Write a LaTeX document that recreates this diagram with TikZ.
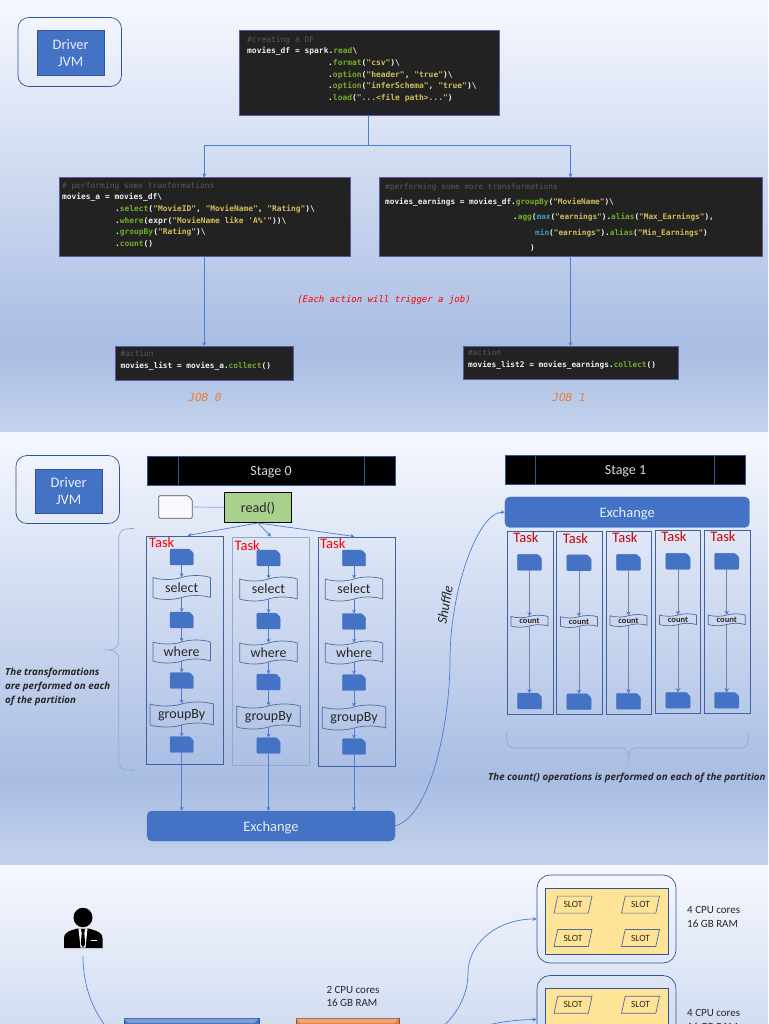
\documentclass[tikz,border=0pt]{standalone}
\usepackage{fontspec}
\setmainfont{Carlito}
\newfontfamily\codefont{DejaVu Sans Mono}
\newfontfamily\notefont{Open Sans}
\usetikzlibrary{arrows.meta,shapes.geometric,shapes.symbols,calc}
\definecolor{bluefill}{HTML}{4472C4}
\definecolor{blueedge}{HTML}{2F5597}
\definecolor{linkblue}{HTML}{4A7DD4}
\definecolor{codebg}{HTML}{222222}
\definecolor{cmt}{HTML}{5A5A5A}
\definecolor{codew}{HTML}{F0F0F0}
\definecolor{codeg}{HTML}{74AE2A}
\definecolor{codey}{HTML}{D2BE5C}
\definecolor{codec}{HTML}{3C9DC4}
\definecolor{slottop}{HTML}{F6F8FE}
\definecolor{slotmid}{HTML}{A9BDE3}
\definecolor{slotbot}{HTML}{C4D3EC}
\definecolor{wavedge}{HTML}{4F6C9F}
\definecolor{braceblue}{HTML}{8EAADB}
\definecolor{taskedge}{HTML}{3E639F}
\definecolor{slotfill}{HTML}{FFE396}
\definecolor{darktext}{HTML}{262626}
\definecolor{readgreen}{HTML}{A9D18E}
\definecolor{joborange}{HTML}{ED7D31}
\definecolor{countline}{HTML}{7486A8}
\pgfdeclareverticalshading{slidebg}{100bp}{color(0bp)=(slotbot); color(25bp)=(slotbot); color(35bp)=(slotmid); color(75bp)=(slottop); color(100bp)=(slottop)}
\newcommand\cC[1]{{\mdseries\textcolor{cmt}{#1}}}
\newcommand\cM[1]{\textcolor{codeg}{#1}}
\newcommand\cS[1]{\textcolor{codey}{#1}}
\newcommand\cB[1]{\textcolor{codec}{#1}}
\tikzset{
  x=1pt,y=-1pt,
  slide/.style={shading=slidebg,draw=none},
  outerbox/.style={draw=blueedge,line width=.7pt,rounded corners=11pt,fill=none,anchor=center,inner sep=0pt},
  driverbox/.style={draw=blueedge,line width=.5pt,fill=bluefill,text=white!88!bluefill,align=center,font=\fontsize{14.5}{17.5}\selectfont,inner sep=0pt,minimum width=67.5pt,minimum height=44.5pt},
  codebox/.style={draw=gray!70!blue,line width=.4pt,fill=codebg,inner sep=0pt},
  codetext/.style={anchor=north west,inner sep=0pt,align=left,text=codew},
  link/.style={draw=linkblue,line width=.7pt,-{Stealth[length=4pt,width=4pt]}},
  linkplain/.style={draw=linkblue,line width=1pt},
  countlink/.style={draw=countline,line width=.7pt,-{Stealth[length=4pt,width=4.5pt,color=linkblue]}},
  stagebar/.style={draw=blueedge,line width=.8pt,fill=black,text=white!85!black,font=\fontsize{14}{16}\selectfont,inner sep=0pt,text depth=0pt},
  taskbox/.style={draw=taskedge,line width=.7pt,inner sep=0pt},
  tasklabel/.style={text=red,font=\fontsize{14.5}{16}\selectfont,inner sep=0pt},
  docanchor/.style={rectangle,inner sep=0pt,minimum width=23pt,minimum height=15.5pt},
  docpaint/.style={fill=bluefill,draw=bluefill,line width=.3pt,rounded corners=1pt},
  wavebox/.style={tape,tape bend top=in and out,tape bend bottom=in and out,tape bend height=4pt,draw=wavedge,line width=.7pt,inner sep=0pt,text=darktext,font=\fontsize{14}{16}\selectfont},
  countwave/.style={wavebox,tape bend height=2.5pt,minimum width=37pt,minimum height=12pt,font=\fontsize{8.5}{10}\selectfont\bfseries},
  exchange/.style={fill=bluefill,draw=bluefill,rounded corners=5pt,text=white!88!bluefill,font=\fontsize{14.5}{16}\selectfont,inner sep=0pt,text depth=0pt},
  note/.style={inner sep=0pt,font=\notefont\fontsize{9.75}{14}\selectfont\bfseries\itshape,text=darktext,align=left},
  specs/.style={inner sep=0pt,align=left,font=\fontsize{11}{13.5}\selectfont,text=darktext},
  slotbox/.style={trapezium,trapezium left angle=70,trapezium right angle=110,trapezium stretches=true,draw=wavedge,line width=.7pt,fill=slotfill,minimum width=38pt,minimum height=17pt,inner sep=0pt,text=darktext,font=\fontsize{9.5}{11}\selectfont},
  execinner/.style={draw=blueedge,line width=.8pt,fill=slotfill,inner sep=0pt},
  bracepath/.style={draw=braceblue,line width=.7pt},
}
% page with the top right corner snipped: name, x, y, width, height, paint style
\newcommand\DocNode[6]{%
  \node[docanchor,minimum width=#4pt,minimum height=#5pt] (#1) at (#2,#3) {};
  \path[#6] (#1.south west) -- (#1.north west) -- ([xshift=-4pt]#1.north east) -- ([yshift=-4pt]#1.north east) -- (#1.south east) -- cycle;
}
% id, cx, doc1 y, select y, doc2 y, where y, doc3 y, groupBy y, doc4 y
\newcommand\StageTask[9]{%
  \DocNode{#1d1}{#2}{#3}{23}{15.5}{docpaint}
  \node[wavebox,minimum width=57.5pt,minimum height=24pt] (#1sel) at (#2,#4) {select};
  \DocNode{#1d2}{#2}{#5}{23}{15.5}{docpaint}
  \node[wavebox,minimum width=57.5pt,minimum height=23pt] (#1whe) at (#2,#6) {where};
  \DocNode{#1d3}{#2}{#7}{23}{15.5}{docpaint}
  \node[wavebox,minimum width=63.5pt,minimum height=25pt,text depth=0pt] (#1grp) at (#2,#8) {groupBy};
  \DocNode{#1d4}{#2}{#9}{23}{15.5}{docpaint}
  \draw[link] (#1d1.south) -- (#1sel.north);
  \draw[link] (#1sel.south) -- (#1d2.north);
  \draw[link] (#1d2.south) -- (#1whe.north);
  \draw[link] (#1whe.south) -- (#1d3.north);
  \draw[link] (#1d3.south) -- (#1grp.north);
  \draw[link] (#1grp.south) -- (#1d4.north);
  \draw[link] (#1d4.south) -- (#1d4.south |- exA.north);
}
% id, cx, top doc y, wave y, bottom doc y, task box x1, y1, x2
\newcommand\CountTask[8]{%
  \node[taskbox,minimum width=#8pt-#6pt,minimum height=183pt,anchor=north west] (#1box) at (#6,#7) {};
  \DocNode{#1top}{#2}{#3}{24}{15.5}{docpaint}
  \node[countwave] (#1cnt) at (#2,#4) {count};
  \DocNode{#1bot}{#2}{#5}{24}{15.5}{docpaint}
  \draw[countlink] (#1top.south) -- (#1cnt.north);
  \draw[countlink] (#1cnt.south) -- (#1bot.north);
}
\begin{document}
\begin{tikzpicture}
\useasboundingbox (0,0) rectangle (768,1024);
\clip (0,0) rectangle (768,1024);
% slide backgrounds
\path[slide] (0,0) rectangle (768,432.3);
\path[slide] (0,432) rectangle (768,865.3);
\path[slide] (0,865) rectangle (768,1298);

%%% ---------- first slide ----------
\node[outerbox,minimum width=103.5pt,minimum height=69pt] (drv1o) at (69.7,52) {};
\node[driverbox] (drv1) at (70.7,53) {Driver\\JVM};

\node[codebox,minimum width=260.5pt,minimum height=84.5pt,anchor=north west] (code1) at (238.5,30.5) {};
\node[codetext,font=\codefont\fontsize{7.95}{11.6}\selectfont\bfseries] (code1t) at (247,36) {%
\cC{\#creating a DF}\\
movies\_df = spark.\cM{read}\textbackslash\\
\hspace*{81pt}.\cM{format}(\cS{"csv"})\textbackslash\\
\hspace*{81pt}.\cM{option}(\cS{"header"}, \cS{"true"})\textbackslash\\
\hspace*{81pt}.\cM{option}(\cS{"inferSchema"}, \cS{"true"})\textbackslash\\
\hspace*{81pt}.\cM{load}(\cS{"...<file path>..."})};

\node[codebox,minimum width=291pt,minimum height=78pt,anchor=north west] (code2) at (58.5,177.5) {};
\node[codetext,font=\codefont\fontsize{7.9}{11.6}\selectfont\bfseries] (code2t) at (62,182) {%
\cC{\# performing some tranformations}\\
movies\_a = movies\_df\textbackslash\\
\hspace*{53pt}.\cM{select}(\cS{"MovieID"}, \cS{"MovieName"}, \cS{"Rating"})\textbackslash\\
\hspace*{53pt}.\cM{where}(expr(\cS{"MovieName like 'A\%'"}))\textbackslash\\
\hspace*{53pt}.\cM{groupBy}(\cS{"Rating"})\textbackslash\\
\hspace*{53pt}.\cM{count}()};

\node[codebox,minimum width=382.5pt,minimum height=78pt,anchor=north west] (code3) at (379,177.5) {};
\node[codetext,font=\codefont\fontsize{7.75}{15.4}\selectfont\bfseries] (code3t) at (385,183) {%
\cC{\#performing some more transformations}\\
movies\_earnings = movies\_df.\cM{groupBy}(\cS{"MovieName"})\textbackslash\\
\hspace*{128pt}.\cM{agg}(\cB{max}(\cS{"earnings"}).\cM{alias}(\cS{"Max\_Earnings"}),\\
\hspace*{150pt}\cB{min}(\cS{"earnings"}).\cM{alias}(\cS{"Min\_Earnings"})\\
\hspace*{145pt})};

\node[codebox,minimum width=178pt,minimum height=34pt,anchor=north west] (code4) at (115,346) {};
\node[codetext,font=\codefont\fontsize{7.8}{11.6}\selectfont\bfseries] (code4t) at (120.5,350.8) {%
\cC{\#action}\\
movies\_list = movies\_a.\cM{collect}()};

\node[codebox,minimum width=215pt,minimum height=33pt,anchor=north west] (code5) at (462.5,346) {};
\node[codetext,font=\codefont\fontsize{7.8}{12}\selectfont\bfseries] (code5t) at (468,349) {%
\cC{\#action}\\
movies\_list2 = movies\_earnings.\cM{collect}()};

\coordinate (fork) at (code1.south |- 0,146);
\draw[linkplain] (code1.south) -- (fork);
\draw[link,line width=1pt] (fork) -| (code2.north);
\draw[link,line width=1pt] (fork) -| (code3.north);
\draw[link] (code2.south) -- (code2.south |- code4.north);
\draw[link] (code3.south) -- (code3.south |- code5.north);

\node[inner sep=0pt,text=red,font=\codefont\fontsize{9}{11}\selectfont\itshape] (actnote) at (384,300) {(Each action will trigger a job)};
\node[inner sep=0pt,text=joborange,font=\codefont\fontsize{11}{13}\selectfont\itshape] (job0) at (205,397) {JOB 0};
\node[inner sep=0pt,text=joborange,font=\codefont\fontsize{11}{13}\selectfont\itshape] (job1) at (569,397) {JOB 1};

%%% ---------- second slide ----------
\node[outerbox,minimum width=103.5pt,minimum height=68pt] (drv2o) at (67.7,489.5) {};
\node[driverbox,minimum width=66.5pt] (drv2) at (68.7,491) {Driver\\JVM};

\node[stagebar,minimum width=248pt,minimum height=29pt] (st0) at (271,470.5) {Stage 0};
\draw[draw=blueedge,line width=.6pt] (178.5,456) -- (178.5,485) (364.5,456) -- (364.5,485);

\DocNode{file}{175.5}{507}{33}{22}{draw=gray!70!black,line width=.7pt,fill=slottop!70!white,rounded corners=1pt}
\node[draw=black,line width=.8pt,fill=readgreen,minimum width=67pt,minimum height=30.5pt,inner sep=0pt,font=\fontsize{14}{16}\selectfont,text=darktext,text depth=0pt] (read) at (258,507.3) {read()};
\draw[draw=linkblue!70!white,line width=.7pt] (file.east) -- (read.west);

\node[exchange,minimum width=248pt,minimum height=30pt] (exA) at (271,826) {Exchange};

\node[taskbox,minimum width=76.5pt,minimum height=228.5pt,anchor=north west] (t1) at (146,535.5) {};
\node[taskbox,draw=taskedge!55!white,minimum width=77pt,minimum height=228.5pt,anchor=north west] (t2) at (232,536.5) {};
\node[taskbox,minimum width=77pt,minimum height=229.5pt,anchor=north west] (t3) at (317.5,536.5) {};
\node[tasklabel,anchor=west] (t1l) at (149,542.5) {Task};
\node[tasklabel,anchor=west] (t2l) at (234.5,545.5) {Task};
\node[tasklabel,anchor=west] (t3l) at (320,543.5) {Task};

\StageTask{a}{181.7}{557}{587.5}{620}{651.5}{680.5}{714.5}{744.5}
\StageTask{b}{268.5}{558}{589}{621}{652.5}{682}{716.5}{745.5}
\StageTask{c}{354}{558}{589}{621.5}{652.5}{682.5}{717.5}{746.5}

\draw[link] (read.south) -- ([xshift=3pt]t1.north);
\draw[link] (read.south) -- (t2.north);
\draw[link] (read.south) -- ([xshift=-2pt]t3.north);

\draw[bracepath] (134,528.5) .. controls (122,528.5) and (118.7,530) .. (118.7,540) -- (118.7,640) .. controls (118.7,648) and (115,650) .. (104,650) .. controls (115,650) and (118.7,652) .. (118.7,660) -- (118.7,760) .. controls (118.7,768) and (122,770.5) .. (134,770.5);
\node[note,anchor=north west] (tnote) at (5,668) {The transformations\\are performed on each\\of the partition};

% stage 1
\node[stagebar,minimum width=240pt,minimum height=29pt] (st1) at (625.5,469.5) {Stage 1};
\draw[draw=blueedge,line width=.6pt] (535,455) -- (535,484) (714.5,455) -- (714.5,484);
\node[exchange,minimum width=244.5pt,minimum height=30.5pt] (exB) at (627.2,512.2) {Exchange};

\CountTask{p}{529.5}{562.3}{621.2}{701}{506.5}{530.5}{552.5}
\CountTask{q}{579}{562.8}{621.5}{701.7}{556}{530.5}{601.5}
\CountTask{r}{628.5}{562.3}{620.5}{701.2}{605.5}{530.5}{651}
\CountTask{s}{678}{561.3}{619.8}{700.2}{655}{529.5}{700}
\CountTask{u}{726.7}{561.3}{619.8}{700.2}{703.5}{529.5}{749.5}
\node[tasklabel,text=red!80!black] (p1) at (526,538) {Task};
\node[tasklabel,text=red!80!black] (q1) at (575.5,539) {Task};
\node[tasklabel,text=red!80!black] (r1) at (625,538) {Task};
\node[tasklabel,text=red!80!black] (s1) at (674,537) {Task};
\node[tasklabel,text=red!80!black] (u1) at (723,537) {Task};

\draw[bracepath] (506.5,733) .. controls (506.5,745) and (508,748) .. (516,748) -- (620,748) .. controls (626,748) and (628.7,750) .. (628.7,762) .. controls (628.7,750) and (631,748) .. (637,748) -- (740,748) .. controls (747,748) and (748.5,745) .. (748.5,733);
\node[note,anchor=west] (cnote) at (488,778) {The count() operations is performed on each of the partition};

\draw[link] (exA.east) .. controls (432,815) and (450,720) .. (450,660) .. controls (450,590) and (478,512) .. (exB.west);
\node[inner sep=0pt,rotate=80,font=\fontsize{14}{16}\selectfont\itshape,text=darktext] (shuf) at (445,605) {Shuffle};

%%% ---------- third slide ----------
\node[fill=black,ellipse,minimum width=19pt,minimum height=19.5pt,inner sep=0pt] (head) at (83,917.5) {};
\path[fill=black] (64,948) -- (64,938) .. controls (64,933) and (68,931) .. (77.5,928.5) -- (88.5,928.5) .. controls (98,931) and (102.5,933) .. (102.5,938) -- (102.5,948) -- cycle;
\path[fill=white] (78.5,928.5) -- (87.5,928.5) -- (85.5,947.5) -- (80.5,947.5) -- cycle;
\path[fill=black] (81,929) -- (85,929) -- (84.3,933) -- (85.2,944) -- (83,947.5) -- (80.8,944) -- (81.7,933) -- cycle;
\path[fill=white] (90.5,939.5) rectangle (96.5,941);
\coordinate (persondown) at (83,956);
\coordinate (masterin) at (114,1036);
\draw[link] (persondown) .. controls (83,985) and (92,1012) .. (masterin);

\node[draw=blueedge,line width=.8pt,fill=bluefill,minimum width=135.5pt,minimum height=70pt,anchor=north west,inner sep=0pt] (master) at (123.5,1018) {};
\path[fill=bluefill!70!white] (124,1018.5) -- (258.5,1018.5) -- (254.5,1023) -- (128,1023) -- cycle;
\node[draw=blueedge!80!orange,line width=.8pt,fill=joborange,minimum width=103.5pt,minimum height=70pt,anchor=north west,inner sep=0pt] (workerhub) at (295.5,1018) {};
\path[fill=joborange!70!white] (296,1018.5) -- (398.5,1018.5) -- (394.5,1023) -- (300,1023) -- cycle;
\node[specs,anchor=center,align=left] (hubspec) at (353,996.5) {2 CPU cores\\16 GB RAM};

\node[outerbox,minimum width=139pt,minimum height=88pt,rounded corners=13pt] (ex1) at (606.5,919) {};
\node[execinner,minimum width=123pt,minimum height=66pt] (ex1i) at (607,921.5) {};
\node[slotbox] (s11) at (573,904.6) {SLOT};
\node[slotbox] (s12) at (640.5,904.6) {SLOT};
\node[slotbox] (s13) at (573,938) {SLOT};
\node[slotbox] (s14) at (640.5,938) {SLOT};
\node[specs,anchor=west] (ex1spec) at (687,917) {4 CPU cores\\16 GB RAM};

\node[outerbox,minimum width=139pt,minimum height=88pt,rounded corners=13pt] (ex2) at (606.5,1019.5) {};
\node[execinner,minimum width=123pt,minimum height=66pt] (ex2i) at (607,1021.5) {};
\node[slotbox] (s21) at (573,1004.8) {SLOT};
\node[slotbox] (s22) at (640.5,1004.8) {SLOT};
\node[specs,anchor=west] (ex2spec) at (687,1020) {4 CPU cores\\16 GB RAM};

\draw[link] (workerhub.east) .. controls (445,1035) and (468,1005) .. (468,973) .. controls (468,945) and (495,919) .. (ex1.west);
\draw[link] (workerhub.east) .. controls (435,1048) and (470,1020) .. (ex2.west);
\end{tikzpicture}
\end{document}
